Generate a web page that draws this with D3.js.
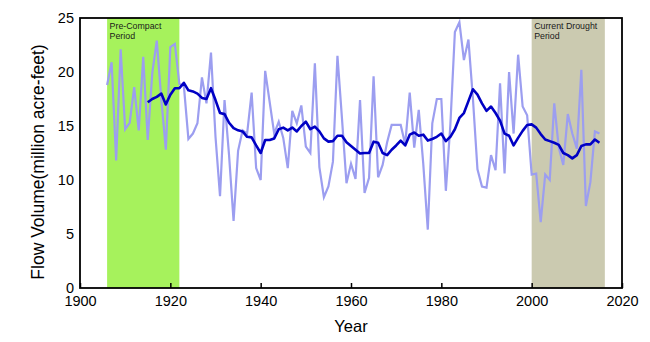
<!DOCTYPE html>
<html>
<head>
<meta charset="utf-8">
<script src="https://cdn.jsdelivr.net/npm/d3@7/dist/d3.min.js"></script>
<style>
  html, body { margin: 0; padding: 0; background: #fff; }
  svg { display: block; font-family: "Liberation Sans", Arial, Helvetica, sans-serif; }
</style>
</head>
<body>
<svg id="chart" width="650" height="342"></svg>
<script>
// ---- data ----
const annualStartYear = 1906;
const annualFlow = [
  18.8, 20.9, 11.8, 22.1, 14.7, 15.3, 18.6, 14.6, 21.4, 13.7,   // 1906-1915
  19.9, 22.9, 17.5, 12.8, 22.3, 22.6, 18.9, 18.7, 13.8, 14.3,   // 1916-1925
  15.25, 19.5, 17.1, 21.8, 14.0, 8.5, 17.4, 12.3, 6.2, 12.7,    // 1926-1935
  14.6, 14.3, 18.1, 11.1, 10.0, 20.1, 17.2, 14.3, 15.4, 13.9,   // 1936-1945
  11.1, 16.4, 15.25, 16.9, 13.1, 12.5, 20.8, 11.2, 8.4, 9.4,    // 1946-1955
  11.7, 21.5, 15.7, 9.7, 11.5, 10.1, 17.4, 8.8, 10.2, 19.6,     // 1956-1965
  10.25, 11.4, 13.5, 15.1, 15.1, 15.1, 13.3, 18.1, 13.0, 16.5,  // 1966-1975
  11.5, 5.4, 15.25, 17.5, 17.5, 9.0, 15.1, 23.7, 24.6, 21.1,    // 1976-1985
  23.0, 17.5, 11.0, 9.4, 9.3, 12.3, 10.9, 18.95, 10.6, 20.0,    // 1986-1995
  14.3, 21.6, 16.8, 16.0, 10.5, 10.6, 6.1, 10.5, 10.0, 17.1,    // 1996-2005
  13.0, 11.4, 16.1, 14.3, 12.9, 20.2, 7.6, 9.8, 14.5, 14.3      // 2006-2015
];
const avgStartYear = 1915;
const movingAvg = [
  17.2, 17.5, 17.7, 18.0, 17.0, 17.9, 18.5, 18.5, 19.0, 18.3,   // 1915-1924
  18.2, 18.0, 17.6, 17.5, 18.5, 17.4, 16.2, 16.1, 15.3, 14.8,   // 1925-1934
  14.6, 14.5, 14.0, 13.95, 13.2, 12.5, 13.7, 13.7, 13.85, 14.7, // 1935-1944
  14.85, 14.6, 14.85, 14.5, 15.0, 15.4, 14.7, 14.95, 14.5, 13.85, // 1945-1954
  13.55, 13.6, 14.1, 14.1, 13.5, 13.15, 12.8, 12.45, 12.5, 12.5, // 1955-1964
  13.55, 13.45, 12.5, 12.3, 12.8, 13.2, 13.65, 13.2, 14.2, 14.4, // 1965-1974
  14.1, 14.2, 13.65, 13.8, 14.0, 14.3, 13.6, 14.0, 14.7, 15.75, // 1975-1984
  16.2, 17.3, 18.4, 17.9, 17.1, 16.4, 16.8, 16.2, 15.5, 14.3,   // 1985-1994
  14.1, 13.2, 13.9, 14.55, 15.1, 15.15, 14.85, 14.25, 13.75, 13.6, // 1995-2004
  13.45, 13.25, 12.5, 12.3, 12.0, 12.3, 13.15, 13.3, 13.3, 13.75, // 2005-2014
  13.45                                                          // 2015
];
const periodStarts = [1906, 2000];
const periodEnds = [1922, 2016.2];
const periodLabels = [["Pre-Compact", "Period"], ["Current Drought", "Period"]];
const periodColors = ["#a6f25c", "#cbcab0"];
const xTicks = [1900, 1920, 1940, 1960, 1980, 2000, 2020];
const yTicks = [0, 5, 10, 15, 20, 25];
const xTitle = "Year";
const yTitle = "Flow Volume(million acre-feet)";

// ---- layout ----
const svg = d3.select("#chart");
const mLeft = 80, mRight = 622, mTop = 18, mBottom = 288;
const x = d3.scaleLinear().domain([1900, 2020]).range([mLeft, mRight]);
const y = d3.scaleLinear().domain([0, 25]).range([mBottom, mTop]);

// shaded periods
const pg = svg.append("g");
periodStarts.forEach((s, k) => {
  pg.append("rect")
    .attr("x", x(s)).attr("y", y(25))
    .attr("width", x(periodEnds[k]) - x(s)).attr("height", y(0) - y(25))
    .attr("fill", periodColors[k]);
  const t = pg.append("text")
    .attr("font-size", "8.8px").attr("fill", "#1a1a1a");
  periodLabels[k].forEach((ln, i) => {
    t.append("tspan").attr("x", x(s) + 2.5).attr("y", 28.5 + i * 10).text(ln);
  });
});

// lines
const annualData = annualFlow.map((v, i) => [annualStartYear + i, v]);
const avgData = movingAvg.map((v, i) => [avgStartYear + i, v]);
const line = d3.line().x(d => x(d[0])).y(d => y(d[1]));

svg.append("path").datum(annualData)
  .attr("d", line).attr("fill", "none")
  .attr("stroke", "#9c9ef0").attr("stroke-width", 2.2)
  .attr("stroke-linejoin", "miter");
svg.append("path").datum(avgData)
  .attr("d", line).attr("fill", "none")
  .attr("stroke", "#0000c4").attr("stroke-width", 2.6)
  .attr("stroke-linejoin", "round");

// axes
const xAxis = d3.axisBottom(x).tickValues(xTicks).tickFormat(d3.format("d"))
  .tickSize(-5).tickPadding(8);
const gx = svg.append("g").attr("transform", `translate(0,${mBottom})`).call(xAxis);
gx.select(".domain").remove();
gx.selectAll("line").attr("stroke", "#000").attr("stroke-width", 1.5);
gx.selectAll("text").attr("font-size", "14.5px").attr("fill", "#000")
  .attr("font-family", "Liberation Sans, Arial, sans-serif");

const yAxis = d3.axisLeft(y).tickValues(yTicks).tickSize(0).tickPadding(6);
const gy = svg.append("g").attr("transform", `translate(${mLeft},0)`).call(yAxis);
gy.select(".domain").remove();
gy.selectAll("text").attr("font-size", "14.5px").attr("fill", "#000")
  .attr("font-family", "Liberation Sans, Arial, sans-serif");

// frame
svg.append("rect")
  .attr("x", mLeft).attr("y", mTop)
  .attr("width", mRight - mLeft).attr("height", mBottom - mTop)
  .attr("fill", "none").attr("stroke", "#000").attr("stroke-width", 1.8);

// titles
svg.append("text").attr("x", (mLeft + mRight) / 2).attr("y", 332)
  .attr("text-anchor", "middle").attr("font-size", "16.5px").text(xTitle);
svg.append("text")
  .attr("transform", `translate(44,${(mTop + mBottom) / 2 + 9}) rotate(-90)`)
  .attr("text-anchor", "middle").attr("font-size", "17.5px").text(yTitle);
</script>
</body>
</html>
